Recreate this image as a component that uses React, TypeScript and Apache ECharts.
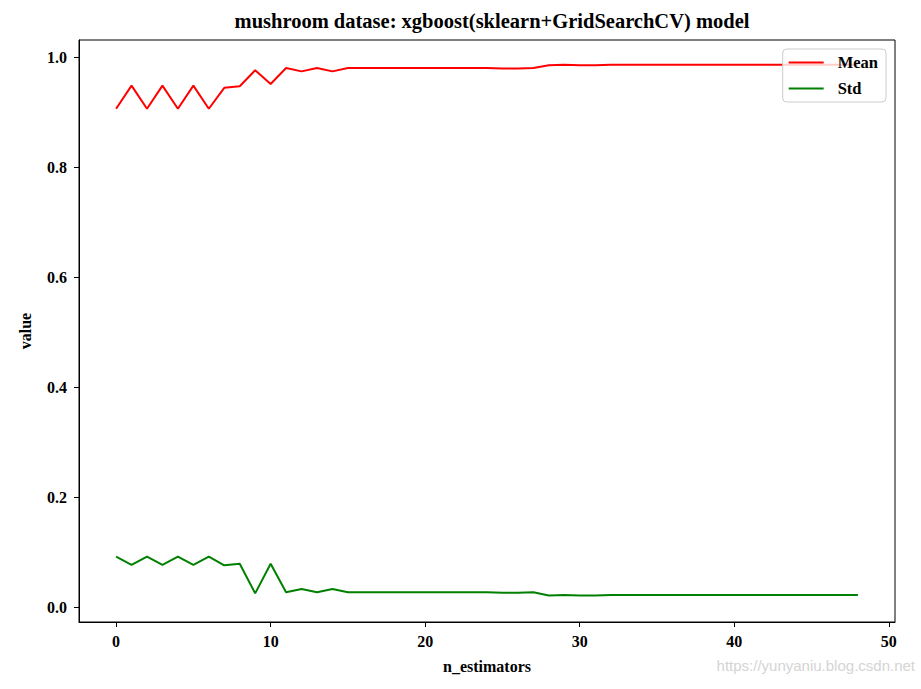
import React, { useEffect, useRef } from "react";
import * as echarts from "echarts";

const nEstimators: number[] = Array.from({ length: 49 }, (_, i) => i);

const meanScores: number[] = [
  0.906, 0.948, 0.906, 0.948, 0.906, 0.948, 0.906, 0.944, 0.947, 0.976,
  0.951, 0.98, 0.974, 0.98, 0.974, 0.98, 0.98, 0.98, 0.98, 0.98,
  0.98, 0.98, 0.98, 0.98, 0.98, 0.979, 0.979, 0.98, 0.985, 0.986,
  0.985, 0.985, 0.986, 0.986, 0.986, 0.986, 0.986, 0.986, 0.986, 0.986,
  0.986, 0.986, 0.986, 0.986, 0.986, 0.986, 0.986, 0.986, 0.986,
];

const stdScores: number[] = [
  0.092, 0.077, 0.092, 0.077, 0.092, 0.077, 0.092, 0.076, 0.079, 0.025,
  0.079, 0.027, 0.033, 0.027, 0.033, 0.027, 0.027, 0.027, 0.027, 0.027,
  0.027, 0.027, 0.027, 0.027, 0.027, 0.026, 0.026, 0.027, 0.021, 0.022,
  0.021, 0.021, 0.022, 0.022, 0.022, 0.022, 0.022, 0.022, 0.022, 0.022,
  0.022, 0.022, 0.022, 0.022, 0.022, 0.022, 0.022, 0.022, 0.022,
];

const xTicks: number[] = [0, 10, 20, 30, 40, 50];
const yTicks: number[] = [0, 0.2, 0.4, 0.6, 0.8, 1.0];

const font = "'Liberation Serif', 'Times New Roman', serif";

const App: React.FC = () => {
  const chartRef = useRef<HTMLDivElement>(null);

  useEffect(() => {
    if (!chartRef.current) return;
    const chart = echarts.init(chartRef.current, undefined, { renderer: "svg" });
    const axisCommon = {
      axisLine: { show: true, onZero: false, lineStyle: { color: "#000", width: 1 } },
      axisTick: { show: true, inside: false, length: 5, lineStyle: { color: "#000" } },
      splitLine: { show: false },
      nameTextStyle: { fontFamily: font, fontWeight: "bold", fontSize: 16, color: "#000" },
    };
    chart.setOption({
      animation: false,
      backgroundColor: "#fff",
      title: {
        text: "mushroom datase: xgboost(sklearn+GridSearchCV) model",
        left: 487,
        textAlign: "center",
        top: 5,
        textStyle: { fontFamily: font, fontWeight: "bold", fontSize: 20.5, color: "#000" },
      },
      grid: {
        left: 79,
        top: 40,
        width: 816,
        height: 582,
        show: true,
        borderColor: "#000",
        borderWidth: 1,
        containLabel: false,
      },
      legend: {
        orient: "vertical",
        right: 35,
        top: 49,
        backgroundColor: "rgba(255,255,255,0.8)",
        borderColor: "#ccc",
        borderWidth: 1,
        borderRadius: 4,
        padding: [5, 8, 5, 6],
        itemGap: 9,
        itemWidth: 35,
        itemHeight: 2,
        icon: "rect",
        textStyle: { fontFamily: font, fontWeight: "bold", fontSize: 16.5, color: "#000", padding: [0, 0, 0, 9] },
        data: ["Mean", "Std"],
      },
      xAxis: {
        type: "value",
        min: -2.4,
        max: 50.4,
        name: "n_estimators",
        nameLocation: "middle",
        nameGap: 36,
        ...axisCommon,
        axisTick: { ...axisCommon.axisTick, customValues: xTicks },
        axisLabel: {
          customValues: xTicks,
          margin: 11,
          fontFamily: font,
          fontWeight: "bold",
          fontSize: 16,
          color: "#000",
        },
      },
      yAxis: {
        type: "value",
        min: -0.027,
        max: 1.031,
        name: "value",
        nameLocation: "middle",
        nameRotate: 90,
        nameGap: 46,
        ...axisCommon,
        axisTick: { ...axisCommon.axisTick, customValues: yTicks },
        axisLabel: {
          customValues: yTicks,
          margin: 12,
          fontFamily: font,
          fontWeight: "bold",
          fontSize: 16,
          color: "#000",
          formatter: (v: number) => v.toFixed(1),
        },
      },
      graphic: [
        {
          type: "text",
          right: 6,
          top: 658,
          style: {
            text: "https://yunyaniu.blog.csdn.net",
            fill: "#d4d4d4",
            fontSize: 15,
            fontFamily: "'Liberation Sans', Arial, sans-serif",
          },
        },
      ],
      series: [
        {
          name: "Mean",
          type: "line",
          data: nEstimators.map((x, i) => [x, meanScores[i]]),
          showSymbol: false,
          symbol: "none",
          color: "#ff0000",
          lineStyle: { color: "#ff0000", width: 2 },
        },
        {
          name: "Std",
          type: "line",
          data: nEstimators.map((x, i) => [x, stdScores[i]]),
          showSymbol: false,
          symbol: "none",
          color: "#008000",
          lineStyle: { color: "#008000", width: 2 },
        },
      ],
    });
    return () => chart.dispose();
  }, []);

  return (
    <div
      ref={chartRef}
      style={{ position: "fixed", left: 0, top: 0, width: "921px", height: "689px" }}
    ></div>
  );
};

export default App;
